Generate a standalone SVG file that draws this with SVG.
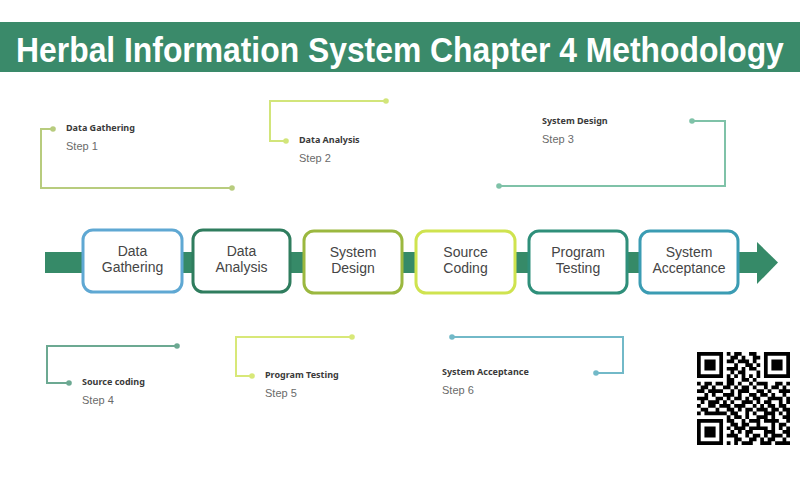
<svg xmlns="http://www.w3.org/2000/svg" width="800" height="480" viewBox="0 0 800 480">
<style>
.box{fill:#fff;stroke-width:3}
.bt{font-family:"Liberation Sans",Arial,sans-serif;font-size:14px;fill:#454545;text-anchor:middle}
.ct{font-family:"Noto Sans","Open Sans",sans-serif;font-size:9px;font-weight:bold;fill:#3a3a3a}
.st{font-family:"Liberation Sans",Arial,sans-serif;font-size:11px;fill:#6a6a6a}
.ln{fill:none;stroke-width:2}
</style>
<rect width="800" height="480" fill="#fff"/>
<g id="title">
<rect x="0" y="22" width="800" height="50" fill="#3a8a6a"/>
<g transform="scale(0.9,1)">
<text x="444.4" y="62" font-family="'Liberation Sans',Arial,sans-serif" font-weight="bold" font-size="35" fill="#fff" text-anchor="middle" textLength="853" lengthAdjust="spacingAndGlyphs">Herbal Information System Chapter 4 Methodology</text>
</g>
</g>
<g id="arrow">
<rect x="45" y="252" width="713" height="21" fill="#368a68"/>
<polygon points="757,242 778,262.5 757,284" fill="#368a68"/>
</g>
<g id="connectors">
<g id="c1" stroke="#b8cc7e" fill="#b8cc7e">
<polyline class="ln" points="53,129 41,129 41,188 232,188"/>
<circle cx="53" cy="129" r="2.8" stroke="none"/><circle cx="232" cy="188" r="2.8" stroke="none"/>
</g>
<g id="c2" stroke="#d2e57a" fill="#d2e57a">
<polyline class="ln" points="386,101 270,101 270,141 286,141"/>
<circle cx="386" cy="101" r="2.8" stroke="none"/><circle cx="286" cy="141" r="2.8" stroke="none"/>
</g>
<g id="c3" stroke="#7fc2a8" fill="#7fc2a8">
<polyline class="ln" points="692,121 725,121 725,186 499,186"/>
<circle cx="692" cy="121" r="2.8" stroke="none"/><circle cx="499" cy="186" r="2.8" stroke="none"/>
</g>
<g id="c4" stroke="#6ca992" fill="#6ca992">
<polyline class="ln" points="177,346 47,346 47,383 69,383"/>
<circle cx="177" cy="346" r="2.8" stroke="none"/><circle cx="69" cy="383" r="2.8" stroke="none"/>
</g>
<g id="c5" stroke="#d8e878" fill="#d8e878">
<polyline class="ln" points="352,337 236,337 236,376 252,376"/>
<circle cx="352" cy="337" r="2.8" stroke="none"/><circle cx="252" cy="376" r="2.8" stroke="none"/>
</g>
<g id="c6" stroke="#72b9c8" fill="#72b9c8">
<polyline class="ln" points="452,337 623,337 623,373 596,373"/>
<circle cx="452" cy="337" r="2.8" stroke="none"/><circle cx="596" cy="373" r="2.8" stroke="none"/>
</g>
</g>
<g id="n1"><rect class="box" x="83" y="230" width="99" height="62" rx="10" stroke="#5fa8d3"/><text class="bt" x="132.5" y="256">Data</text><text class="bt" x="132.5" y="272">Gathering</text></g>
<g id="n2"><rect class="box" x="193" y="230" width="97" height="62" rx="10" stroke="#2f7d5e"/><text class="bt" x="241.5" y="256">Data</text><text class="bt" x="241.5" y="272">Analysis</text></g>
<g id="n3"><rect class="box" x="304" y="231" width="98" height="62" rx="10" stroke="#9bb83f"/><text class="bt" x="353" y="257">System</text><text class="bt" x="353" y="273">Design</text></g>
<g id="n4"><rect class="box" x="416" y="231" width="99" height="62" rx="10" stroke="#cfe34f"/><text class="bt" x="465.5" y="257">Source</text><text class="bt" x="465.5" y="273">Coding</text></g>
<g id="n5"><rect class="box" x="529" y="231" width="98" height="62" rx="10" stroke="#2f8f7a"/><text class="bt" x="578" y="257">Program</text><text class="bt" x="578" y="273">Testing</text></g>
<g id="n6"><rect class="box" x="640" y="231" width="98" height="62" rx="10" stroke="#3b9cb3"/><text class="bt" x="689" y="257">System</text><text class="bt" x="689" y="273">Acceptance</text></g>
<g id="l1"><text class="ct" x="66" y="131">Data Gathering</text><text class="st" x="66" y="150">Step 1</text></g>
<g id="l2"><text class="ct" x="299" y="143">Data Analysis</text><text class="st" x="299" y="162">Step 2</text></g>
<g id="l3"><text class="ct" x="542" y="124">System Design</text><text class="st" x="542" y="143">Step 3</text></g>
<g id="l4"><text class="ct" x="82" y="385">Source coding</text><text class="st" x="82" y="404">Step 4</text></g>
<g id="l5"><text class="ct" x="265" y="378">Program Testing</text><text class="st" x="265" y="397">Step 5</text></g>
<g id="l6"><text class="ct" x="442" y="375">System Acceptance</text><text class="st" x="442" y="394">Step 6</text></g>
<g id="qr" transform="translate(697,352) scale(3.72)" fill="#000">
<path fill-rule="evenodd" d="M0 0h7v7h-7zM1 1v5h5v-5zM18 0h7v7h-7zM19 1v5h5v-5zM0 18h7v7h-7zM1 19v5h5v-5z"/>
<path d="M2 2h3v3h-3zM20 2h3v3h-3zM2 20h3v3h-3z"/>
<path d="M8 0h1v1h-1zM10 0h2v1h-2zM14 0h2v1h-2zM9 1h2v1h-2zM12 1h1v1h-1zM15 1h2v1h-2zM8 2h2v1h-2zM11 2h3v1h-3zM15 2h1v1h-1zM10 3h1v1h-1zM13 3h2v1h-2zM16 3h1v1h-1zM8 4h3v1h-3zM12 4h1v1h-1zM14 4h2v1h-2zM9 5h1v1h-1zM11 5h2v1h-2zM16 5h1v1h-1zM8 6h1v1h-1zM10 6h1v1h-1zM12 6h1v1h-1zM14 6h1v1h-1zM16 6h1v1h-1zM8 7h2v1h-2zM12 7h2v1h-2zM15 7h1v1h-1z
M0 8h1v1h-1zM2 8h2v1h-2zM5 8h2v1h-2zM8 8h2v1h-2zM11 8h1v1h-1zM14 8h1v1h-1zM16 8h3v1h-3zM21 8h2v1h-2zM24 8h1v1h-1z
M1 9h2v1h-2zM4 9h1v1h-1zM7 9h2v1h-2zM10 9h1v1h-1zM12 9h2v1h-2zM15 9h1v1h-1zM18 9h1v1h-1zM20 9h2v1h-2zM23 9h1v1h-1z
M0 10h2v1h-2zM3 10h4v1h-4zM9 10h1v1h-1zM11 10h3v1h-3zM16 10h2v1h-2zM19 10h1v1h-1zM22 10h3v1h-3z
M2 11h1v1h-1zM4 11h1v1h-1zM7 11h3v1h-3zM11 11h1v1h-1zM14 11h2v1h-2zM17 11h2v1h-2zM20 11h1v1h-1zM23 11h1v1h-1z
M0 12h3v1h-3zM5 12h2v1h-2zM8 12h1v1h-1zM10 12h2v1h-2zM13 12h1v1h-1zM15 12h2v1h-2zM19 12h4v1h-4zM24 12h1v1h-1z
M1 13h1v1h-1zM3 13h3v1h-3zM7 13h1v1h-1zM9 13h1v1h-1zM12 13h3v1h-3zM16 13h1v1h-1zM18 13h2v1h-2zM22 13h1v1h-1zM24 13h1v1h-1z
M0 14h1v1h-1zM3 14h2v1h-2zM6 14h3v1h-3zM10 14h3v1h-3zM15 14h1v1h-1zM17 14h1v1h-1zM19 14h2v1h-2zM22 14h2v1h-2z
M1 15h2v1h-2zM5 15h1v1h-1zM8 15h2v1h-2zM11 15h1v1h-1zM13 15h2v1h-2zM16 15h3v1h-3zM20 15h2v1h-2zM23 15h2v1h-2z
M0 16h1v1h-1zM2 16h6v1h-6zM9 16h2v1h-2zM13 16h1v1h-1zM15 16h1v1h-1zM18 16h3v1h-3zM22 16h1v1h-1zM24 16h1v1h-1z
M8 17h1v1h-1zM10 17h2v1h-2zM13 17h1v1h-1zM16 17h3v1h-3zM20 17h1v1h-1zM23 17h2v1h-2z
M8 18h2v1h-2zM12 18h1v1h-1zM14 18h3v1h-3zM18 18h4v1h-4zM24 18h1v1h-1z
M9 19h2v1h-2zM12 19h2v1h-2zM16 19h1v1h-1zM20 19h1v1h-1zM22 19h2v1h-2z
M8 20h1v1h-1zM10 20h3v1h-3zM14 20h5v1h-5zM20 20h1v1h-1zM22 20h1v1h-1zM24 20h1v1h-1z
M9 21h1v1h-1zM11 21h1v1h-1zM13 21h2v1h-2zM18 21h3v1h-3zM23 21h2v1h-2z
M8 22h3v1h-3zM13 22h1v1h-1zM15 22h2v1h-2zM18 22h1v1h-1zM20 22h3v1h-3zM24 22h1v1h-1z
M10 23h2v1h-2zM14 23h2v1h-2zM17 23h1v1h-1zM19 23h2v1h-2zM23 23h1v1h-1z
M8 24h1v1h-1zM10 24h1v1h-1zM12 24h3v1h-3zM17 24h3v1h-3zM21 24h4v1h-4z"/>
</g>
</svg>
